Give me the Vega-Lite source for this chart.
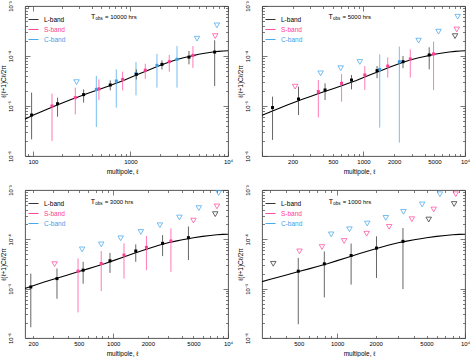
{
"$schema":"https://vega.github.io/schema/vega-lite/v6.json",
"background":"white",
"padding":{"left":0,"top":0,"right":0,"bottom":0},
"columns":2,
"spacing":34,
"bounds":"flush",
"resolve":{"scale":{"color":"independent"},"legend":{"color":"independent"}},
"config":{
 "view":{"stroke":"#444","strokeWidth":0.9},
 "axis":{"grid":false,"domain":false,"tickColor":"#444","tickWidth":0.7,"labelFont":"Liberation Sans","labelFontSize":6,"labelColor":"#000","titleFont":"Liberation Sans","titleFontSize":6.5,"titleFontWeight":"normal","titleColor":"#000","labelOverlap":false,"labelFlush":false}
},
"datasets":{
 "curve":[{"l":80,"v":5.3e-6},{"l":90,"v":5.9e-6},{"l":100,"v":6.5e-6},{"l":120,"v":7.6e-6},{"l":150,"v":9.1e-6},{"l":180,"v":1.06e-5},{"l":200,"v":1.15e-5},{"l":250,"v":1.36e-5},{"l":300,"v":1.55e-5},{"l":350,"v":1.73e-5},{"l":400,"v":1.9e-5},{"l":500,"v":2.22e-5},{"l":600,"v":2.52e-5},{"l":700,"v":2.82e-5},{"l":850,"v":3.25e-5},{"l":1000,"v":3.7e-5},{"l":1200,"v":4.3e-5},{"l":1500,"v":5.15e-5},{"l":1800,"v":5.95e-5},{"l":2100,"v":6.7e-5},{"l":2500,"v":7.6e-5},{"l":3000,"v":8.5e-5},{"l":3500,"v":9.2e-5},{"l":4000,"v":9.8e-5},{"l":4500,"v":1.03e-4},{"l":5000,"v":1.08e-4},{"l":6000,"v":1.15e-4},{"l":7000,"v":1.2e-4},{"l":8000,"v":1.24e-4},{"l":9000,"v":1.26e-4},{"l":10000,"v":1.27e-4}],
 "p1":[
  {"kind":"d","l":97,"v":6.6e-6,"lo":2.15e-6,"hi":1.85e-5,"band":"L-band"},
  {"kind":"d","l":157,"v":1.0e-5,"lo":2.0e-6,"hi":1.76e-5,"band":"S-band"},
  {"kind":"d","l":179,"v":1.11e-5,"lo":6.1e-6,"hi":1.47e-5,"band":"L-band"},
  {"kind":"d","l":272,"v":1.47e-5,"lo":6.8e-6,"hi":2.33e-5,"band":"S-band"},
  {"kind":"d","l":331,"v":1.69e-5,"lo":1.17e-5,"hi":2.15e-5,"band":"L-band"},
  {"kind":"d","l":447,"v":2.15e-5,"lo":3.8e-6,"hi":4.0e-5,"band":"C-band"},
  {"kind":"d","l":475,"v":2.2e-5,"lo":1.32e-5,"hi":3.4e-5,"band":"S-band"},
  {"kind":"d","l":621,"v":2.63e-5,"lo":2.06e-5,"hi":3.26e-5,"band":"L-band"},
  {"kind":"d","l":716,"v":3.16e-5,"lo":9.3e-6,"hi":5.4e-5,"band":"C-band"},
  {"kind":"d","l":832,"v":3.4e-5,"lo":2.06e-5,"hi":4.86e-5,"band":"S-band"},
  {"kind":"d","l":1140,"v":4.4e-5,"lo":1.63e-5,"hi":7.6e-5,"band":"C-band"},
  {"kind":"d","l":1148,"v":4.3e-5,"lo":3.4e-5,"hi":5.4e-5,"band":"L-band"},
  {"kind":"d","l":1419,"v":5.2e-5,"lo":3.5e-5,"hi":7.0e-5,"band":"S-band"},
  {"kind":"d","l":1870,"v":6.5e-5,"lo":2.33e-5,"hi":1.11e-4,"band":"C-band"},
  {"kind":"d","l":2104,"v":6.8e-5,"lo":5.4e-5,"hi":8.2e-5,"band":"L-band"},
  {"kind":"d","l":2500,"v":7.7e-5,"lo":4.86e-5,"hi":1.05e-4,"band":"S-band"},
  {"kind":"d","l":3000,"v":8.6e-5,"lo":2.33e-5,"hi":1.58e-4,"band":"C-band"},
  {"kind":"d","l":3980,"v":9.5e-5,"lo":6.8e-5,"hi":1.26e-4,"band":"L-band"},
  {"kind":"d","l":4370,"v":1.03e-4,"lo":5.8e-5,"hi":1.58e-4,"band":"S-band"},
  {"kind":"d","l":7300,"v":1.2e-4,"lo":2.5e-5,"hi":2.06e-4,"band":"L-band"},
  {"kind":"u","l":280,"v":3.0e-5,"band":"C-band"},
  {"kind":"u","l":4810,"v":2.22e-4,"band":"C-band"},
  {"kind":"u","l":7400,"v":2.5e-4,"band":"S-band"},
  {"kind":"u","l":7700,"v":4.1e-4,"band":"C-band"}
 ],
 "p2":[
  {"kind":"d","l":127,"v":9.3e-6,"lo":2.1e-6,"hi":1.54e-5,"band":"L-band"},
  {"kind":"d","l":229,"v":1.38e-5,"lo":6.6e-6,"hi":2.44e-5,"band":"L-band"},
  {"kind":"d","l":359,"v":1.94e-5,"lo":5.9e-6,"hi":3.3e-5,"band":"S-band"},
  {"kind":"d","l":418,"v":2.09e-5,"lo":1.32e-5,"hi":2.84e-5,"band":"L-band"},
  {"kind":"d","l":608,"v":2.84e-5,"lo":1.22e-5,"hi":4.36e-5,"band":"S-band"},
  {"kind":"d","l":762,"v":3.3e-5,"lo":2.15e-5,"hi":4.17e-5,"band":"L-band"},
  {"kind":"d","l":1030,"v":4.17e-5,"lo":2.09e-5,"hi":6.3e-5,"band":"S-band"},
  {"kind":"d","l":1445,"v":5.4e-5,"lo":3.7e-6,"hi":1.08e-4,"band":"C-band"},
  {"kind":"d","l":1360,"v":5.1e-5,"lo":3.6e-5,"hi":6.3e-5,"band":"L-band"},
  {"kind":"d","l":1733,"v":6.3e-5,"lo":3.7e-5,"hi":9.4e-5,"band":"S-band"},
  {"kind":"d","l":2255,"v":7.7e-5,"lo":1.85e-6,"hi":1.54e-4,"band":"C-band"},
  {"kind":"d","l":2450,"v":7.7e-5,"lo":5.7e-5,"hi":1.0e-4,"band":"L-band"},
  {"kind":"d","l":2890,"v":8.7e-5,"lo":3.7e-5,"hi":1.36e-4,"band":"S-band"},
  {"kind":"d","l":4440,"v":1.05e-4,"lo":5.4e-5,"hi":1.49e-4,"band":"L-band"},
  {"kind":"d","l":4900,"v":1.1e-4,"lo":2.09e-5,"hi":1.94e-4,"band":"S-band"},
  {"kind":"u","l":212,"v":2.44e-5,"band":"S-band"},
  {"kind":"u","l":378,"v":4.5e-5,"band":"C-band"},
  {"kind":"u","l":596,"v":5.7e-5,"band":"C-band"},
  {"kind":"u","l":920,"v":7.6e-5,"band":"C-band"},
  {"kind":"u","l":3490,"v":2.03e-4,"band":"C-band"},
  {"kind":"u","l":5480,"v":3.07e-4,"band":"C-band"},
  {"kind":"u","l":7980,"v":2.5e-4,"band":"L-band"},
  {"kind":"u","l":8290,"v":3.4e-4,"band":"S-band"},
  {"kind":"u","l":8470,"v":6.1e-4,"band":"C-band"}
 ],
 "p3":[
  {"kind":"d","l":191,"v":1.08e-5,"lo":1.65e-6,"hi":2.02e-5,"band":"L-band"},
  {"kind":"d","l":323,"v":1.6e-5,"lo":6.25e-6,"hi":2.56e-5,"band":"L-band"},
  {"kind":"d","l":493,"v":2.26e-5,"lo":3.3e-6,"hi":4.1e-5,"band":"S-band"},
  {"kind":"d","l":546,"v":2.37e-5,"lo":1.26e-5,"hi":3.5e-5,"band":"L-band"},
  {"kind":"d","l":785,"v":3.24e-5,"lo":8.96e-6,"hi":5.8e-5,"band":"S-band"},
  {"kind":"d","l":936,"v":3.67e-5,"lo":2.09e-5,"hi":5.3e-5,"band":"L-band"},
  {"kind":"d","l":1240,"v":4.79e-5,"lo":1.6e-5,"hi":8.3e-5,"band":"S-band"},
  {"kind":"d","l":1570,"v":5.8e-5,"lo":3.5e-5,"hi":7.9e-5,"band":"L-band"},
  {"kind":"d","l":1945,"v":6.87e-5,"lo":2.37e-5,"hi":1.17e-4,"band":"S-band"},
  {"kind":"d","l":2690,"v":8.3e-5,"lo":4.57e-5,"hi":1.22e-4,"band":"L-band"},
  {"kind":"d","l":3180,"v":9.25e-5,"lo":2.19e-5,"hi":1.67e-4,"band":"S-band"},
  {"kind":"d","l":4520,"v":1.08e-4,"lo":3.8e-5,"hi":1.82e-4,"band":"L-band"},
  {"kind":"u","l":308,"v":3.14e-5,"band":"S-band"},
  {"kind":"u","l":535,"v":6.25e-5,"band":"C-band"},
  {"kind":"u","l":785,"v":7.9e-5,"band":"C-band"},
  {"kind":"u","l":1160,"v":1.05e-4,"band":"C-band"},
  {"kind":"u","l":1740,"v":1.41e-4,"band":"C-band"},
  {"kind":"u","l":2550,"v":1.93e-4,"band":"C-band"},
  {"kind":"u","l":3770,"v":2.77e-4,"band":"C-band"},
  {"kind":"u","l":5000,"v":2.4e-4,"band":"S-band"},
  {"kind":"u","l":5570,"v":4.3e-4,"band":"C-band"},
  {"kind":"u","l":7740,"v":3.24e-4,"band":"L-band"},
  {"kind":"u","l":8010,"v":4.65e-4,"band":"S-band"},
  {"kind":"u","l":8280,"v":8.7e-4,"band":"C-band"}
 ],
 "p4":[
  {"kind":"d","l":496,"v":2.26e-5,"lo":1.9e-6,"hi":4.2e-5,"band":"L-band"},
  {"kind":"d","l":793,"v":3.19e-5,"lo":6.65e-6,"hi":5.7e-5,"band":"L-band"},
  {"kind":"d","l":1285,"v":4.7e-5,"lo":1.21e-5,"hi":8.2e-5,"band":"L-band"},
  {"kind":"d","l":2030,"v":6.65e-5,"lo":1.65e-5,"hi":1.15e-4,"band":"L-band"},
  {"kind":"d","l":3270,"v":9.1e-5,"lo":9.8e-6,"hi":1.7e-4,"band":"L-band"},
  {"kind":"u","l":316,"v":3.19e-5,"band":"L-band"},
  {"kind":"u","l":507,"v":5.7e-5,"band":"S-band"},
  {"kind":"u","l":760,"v":6.98e-5,"band":"S-band"},
  {"kind":"u","l":897,"v":1.26e-4,"band":"C-band"},
  {"kind":"u","l":1133,"v":9.25e-5,"band":"S-band"},
  {"kind":"u","l":1247,"v":1.6e-4,"band":"C-band"},
  {"kind":"u","l":1700,"v":1.3e-4,"band":"S-band"},
  {"kind":"u","l":1718,"v":2.09e-4,"band":"C-band"},
  {"kind":"u","l":2550,"v":1.79e-4,"band":"S-band"},
  {"kind":"u","l":2400,"v":2.72e-4,"band":"C-band"},
  {"kind":"u","l":3300,"v":3.61e-4,"band":"C-band"},
  {"kind":"u","l":3840,"v":2.56e-4,"band":"S-band"},
  {"kind":"u","l":4620,"v":5.1e-4,"band":"C-band"},
  {"kind":"u","l":5200,"v":2.52e-4,"band":"L-band"},
  {"kind":"u","l":5690,"v":4.03e-4,"band":"S-band"},
  {"kind":"u","l":6370,"v":8.2e-4,"band":"C-band"},
  {"kind":"u","l":8220,"v":5.2e-4,"band":"L-band"},
  {"kind":"u","l":8470,"v":8.2e-4,"band":"S-band"}
 ]
},
"concat":[
{
 "width":203,"height":150,
 "resolve":{"axis":{"x":"independent","y":"independent"}},
 "layer":[
  {"data":{"name":"curve"},"mark":{"type":"line","color":"#000","strokeWidth":1.1,"clip":true},
   "encoding":{
    "x":{"field":"l","type":"quantitative","scale":{"type":"log","domain":[83,10000],"nice":false},
     "axis":{"orient":"bottom","values":[100,1000,10000],"ticks":false,"labelExpr":"datum.value >= 9999 ? '10⁴' : format(datum.value,'d')","labelPadding":2,"labelBaseline":"top","labelAlign":"center","title":"multipole, ℓ","titleX":97,"titleY":15,"titleBaseline":"middle","titleAlign":"center"}},
    "y":{"field":"v","type":"quantitative","scale":{"type":"log","domain":[0.000001,0.001],"nice":false},
     "axis":{"orient":"left","values":[0.000001,0.00001,0.0001,0.001],"ticks":false,"labelExpr":"datum.value >= 0.0009 ? '10⁻³' : datum.value >= 0.00009 ? '10⁻⁴' : datum.value >= 0.000009 ? '10⁻⁵' : '10⁻⁶'","labelAngle":270,"labelAlign":"center","labelBaseline":"middle","labelPadding":14.5,"title":"ℓ(ℓ+1)Cℓ/2π","titleAngle":270,"titleX":-21.5,"titleY":75,"titleAlign":"center","titleBaseline":"middle"}}
   }},
  {"data":{"name":"p1"},"transform":[{"filter":"datum.kind === 'd'"}],"mark":{"type":"rule","strokeWidth":0.75},
   "encoding":{
    "x":{"field":"l","type":"quantitative","scale":{"type":"log","domain":[83,10000],"nice":false},
     "axis":{"orient":"bottom","values":[90,100,200,300,400,500,600,700,800,900,1000,2000,3000,4000,5000,6000,7000,8000,9000,10000],"labels":false,"title":null,"tickSize":{"condition":{"test":"abs(log(datum.value)/LN10 - round(log(datum.value)/LN10)) < 0.001","value":-5},"value":-2.5}}},
    "y":{"field":"lo","type":"quantitative","scale":{"type":"log","domain":[0.000001,0.001],"nice":false},
     "axis":{"orient":"left","values":[0.000001,0.000002,0.000003,0.000004,0.000005,0.000006,0.000007,0.000008,0.000009,0.00001,0.00002,0.00003,0.00004,0.00005,0.00006,0.00007,0.00008,0.00009,0.0001,0.0002,0.0003,0.0004,0.0005,0.0006,0.0007,0.0008,0.0009,0.001],"labels":false,"title":null,"tickSize":{"condition":{"test":"abs(log(datum.value)/LN10 - round(log(datum.value)/LN10)) < 0.001","value":-5},"value":-2.5}}},
    "y2":{"field":"hi"},
    "color":{"field":"band","type":"nominal","scale":{"domain":["L-band","S-band","C-band"],"range":["#333333","#ff4d9d","#4aa8ec"]},
     "legend":{"orient":"none","legendX":3,"legendY":8,"title":null,"symbolType":"stroke","symbolSize":100,"symbolStrokeWidth":1,"labelFont":"Liberation Sans","labelFontSize":6.5,"labelOffset":5,"rowPadding":1,"padding":0,"encode":{"labels":{"update":{"fill":{"signal":"datum.value === 'S-band' ? '#ff3d94' : datum.value === 'C-band' ? '#3fa0e8' : '#000000'"}}}}}}
   }},
  {"data":{"name":"p1"},"transform":[{"filter":"datum.kind === 'd'"}],"mark":{"type":"point","shape":"square","filled":true,"size":9,"opacity":1},
   "encoding":{
    "x":{"field":"l","type":"quantitative","scale":{"type":"log","domain":[83,10000],"nice":false},
     "axis":{"orient":"top","values":[90,100,200,300,400,500,600,700,800,900,1000,2000,3000,4000,5000,6000,7000,8000,9000,10000],"labels":false,"title":null,"tickSize":{"condition":{"test":"abs(log(datum.value)/LN10 - round(log(datum.value)/LN10)) < 0.001","value":-5},"value":-2.5}}},
    "y":{"field":"v","type":"quantitative","scale":{"type":"log","domain":[0.000001,0.001],"nice":false},
     "axis":{"orient":"right","values":[0.000001,0.000002,0.000003,0.000004,0.000005,0.000006,0.000007,0.000008,0.000009,0.00001,0.00002,0.00003,0.00004,0.00005,0.00006,0.00007,0.00008,0.00009,0.0001,0.0002,0.0003,0.0004,0.0005,0.0006,0.0007,0.0008,0.0009,0.001],"labels":false,"title":null,"tickSize":{"condition":{"test":"abs(log(datum.value)/LN10 - round(log(datum.value)/LN10)) < 0.001","value":-5},"value":-2.5}}},
    "fill":{"field":"band","type":"nominal","scale":{"domain":["L-band","S-band","C-band"],"range":["#000000","#ff3d94","#3fa0e8"]},"legend":null}
   }},
  {"data":{"name":"p1"},"transform":[{"filter":"datum.kind === 'u'"}],"mark":{"type":"point","shape":"triangle-down","filled":false,"size":30,"strokeWidth":0.75,"opacity":1,"clip":true},
   "encoding":{
    "x":{"field":"l","type":"quantitative","scale":{"type":"log","domain":[83,10000],"nice":false},"axis":null},
    "y":{"field":"v","type":"quantitative","scale":{"type":"log","domain":[0.000001,0.001],"nice":false},"axis":null},
    "stroke":{"field":"band","type":"nominal","scale":{"domain":["L-band","S-band","C-band"],"range":["#333333","#ff4d9d","#4aa8ec"]},"legend":null}
   }},
  {"data":{"values":[{"l":394,"v":0.00059,"hrs":"= 10000 hrs"}]},
   "layer":[
    {"mark":{"type":"text","text":"T","align":"left","baseline":"middle","font":"Liberation Sans","fontSize":7,"color":"#000"}},
    {"mark":{"type":"text","text":"obs","align":"left","baseline":"middle","font":"Liberation Sans","fontSize":4.5,"dx":4.5,"dy":2,"color":"#000"}},
    {"mark":{"type":"text","align":"left","baseline":"middle","font":"Liberation Sans","fontSize":6,"dx":14,"color":"#000"},"encoding":{"text":{"field":"hrs"}}}
   ],
   "encoding":{
    "x":{"field":"l","type":"quantitative","scale":{"type":"log","domain":[83,10000],"nice":false},"axis":null},
    "y":{"field":"v","type":"quantitative","scale":{"type":"log","domain":[0.000001,0.001],"nice":false},"axis":null}
   }}
 ]
},
{
 "width":203,"height":150,
 "resolve":{"axis":{"x":"independent","y":"independent"}},
 "layer":[
  {"data":{"name":"curve"},"mark":{"type":"line","color":"#000","strokeWidth":1.1,"clip":true},
   "encoding":{
    "x":{"field":"l","type":"quantitative","scale":{"type":"log","domain":[100,10000],"nice":false},
     "axis":{"orient":"bottom","values":[200,500,1000,2000,5000,10000],"ticks":false,"labelExpr":"datum.value >= 9999 ? '10⁴' : format(datum.value,'d')","labelPadding":2,"labelBaseline":"top","labelAlign":"center","title":"multipole, ℓ","titleX":97,"titleY":15,"titleBaseline":"middle","titleAlign":"center"}},
    "y":{"field":"v","type":"quantitative","scale":{"type":"log","domain":[0.000001,0.001],"nice":false},
     "axis":{"orient":"left","values":[0.000001,0.00001,0.0001,0.001],"ticks":false,"labelExpr":"datum.value >= 0.0009 ? '10⁻³' : datum.value >= 0.00009 ? '10⁻⁴' : datum.value >= 0.000009 ? '10⁻⁵' : '10⁻⁶'","labelAngle":270,"labelAlign":"center","labelBaseline":"middle","labelPadding":14.5,"title":"ℓ(ℓ+1)Cℓ/2π","titleAngle":270,"titleX":-21.5,"titleY":75,"titleAlign":"center","titleBaseline":"middle"}}
   }},
  {"data":{"name":"p2"},"transform":[{"filter":"datum.kind === 'd'"}],"mark":{"type":"rule","strokeWidth":0.75},
   "encoding":{
    "x":{"field":"l","type":"quantitative","scale":{"type":"log","domain":[100,10000],"nice":false},
     "axis":{"orient":"bottom","values":[100,200,300,400,500,600,700,800,900,1000,2000,3000,4000,5000,6000,7000,8000,9000,10000],"labels":false,"title":null,"tickSize":{"condition":{"test":"abs(log(datum.value)/LN10 - round(log(datum.value)/LN10)) < 0.001","value":-5},"value":-2.5}}},
    "y":{"field":"lo","type":"quantitative","scale":{"type":"log","domain":[0.000001,0.001],"nice":false},
     "axis":{"orient":"left","values":[0.000001,0.000002,0.000003,0.000004,0.000005,0.000006,0.000007,0.000008,0.000009,0.00001,0.00002,0.00003,0.00004,0.00005,0.00006,0.00007,0.00008,0.00009,0.0001,0.0002,0.0003,0.0004,0.0005,0.0006,0.0007,0.0008,0.0009,0.001],"labels":false,"title":null,"tickSize":{"condition":{"test":"abs(log(datum.value)/LN10 - round(log(datum.value)/LN10)) < 0.001","value":-5},"value":-2.5}}},
    "y2":{"field":"hi"},
    "color":{"field":"band","type":"nominal","scale":{"domain":["L-band","S-band","C-band"],"range":["#333333","#ff4d9d","#4aa8ec"]},
     "legend":{"orient":"none","legendX":3,"legendY":8,"title":null,"symbolType":"stroke","symbolSize":100,"symbolStrokeWidth":1,"labelFont":"Liberation Sans","labelFontSize":6.5,"labelOffset":5,"rowPadding":1,"padding":0,"encode":{"labels":{"update":{"fill":{"signal":"datum.value === 'S-band' ? '#ff3d94' : datum.value === 'C-band' ? '#3fa0e8' : '#000000'"}}}}}}
   }},
  {"data":{"name":"p2"},"transform":[{"filter":"datum.kind === 'd'"}],"mark":{"type":"point","shape":"square","filled":true,"size":9,"opacity":1},
   "encoding":{
    "x":{"field":"l","type":"quantitative","scale":{"type":"log","domain":[100,10000],"nice":false},
     "axis":{"orient":"top","values":[100,200,300,400,500,600,700,800,900,1000,2000,3000,4000,5000,6000,7000,8000,9000,10000],"labels":false,"title":null,"tickSize":{"condition":{"test":"abs(log(datum.value)/LN10 - round(log(datum.value)/LN10)) < 0.001","value":-5},"value":-2.5}}},
    "y":{"field":"v","type":"quantitative","scale":{"type":"log","domain":[0.000001,0.001],"nice":false},
     "axis":{"orient":"right","values":[0.000001,0.000002,0.000003,0.000004,0.000005,0.000006,0.000007,0.000008,0.000009,0.00001,0.00002,0.00003,0.00004,0.00005,0.00006,0.00007,0.00008,0.00009,0.0001,0.0002,0.0003,0.0004,0.0005,0.0006,0.0007,0.0008,0.0009,0.001],"labels":false,"title":null,"tickSize":{"condition":{"test":"abs(log(datum.value)/LN10 - round(log(datum.value)/LN10)) < 0.001","value":-5},"value":-2.5}}},
    "fill":{"field":"band","type":"nominal","scale":{"domain":["L-band","S-band","C-band"],"range":["#000000","#ff3d94","#3fa0e8"]},"legend":null}
   }},
  {"data":{"name":"p2"},"transform":[{"filter":"datum.kind === 'u'"}],"mark":{"type":"point","shape":"triangle-down","filled":false,"size":30,"strokeWidth":0.75,"opacity":1,"clip":true},
   "encoding":{
    "x":{"field":"l","type":"quantitative","scale":{"type":"log","domain":[100,10000],"nice":false},"axis":null},
    "y":{"field":"v","type":"quantitative","scale":{"type":"log","domain":[0.000001,0.001],"nice":false},"axis":null},
    "stroke":{"field":"band","type":"nominal","scale":{"domain":["L-band","S-band","C-band"],"range":["#333333","#ff4d9d","#4aa8ec"]},"legend":null}
   }},
  {"data":{"values":[{"l":452,"v":0.00059,"hrs":"= 5000 hrs"}]},
   "layer":[
    {"mark":{"type":"text","text":"T","align":"left","baseline":"middle","font":"Liberation Sans","fontSize":7,"color":"#000"}},
    {"mark":{"type":"text","text":"obs","align":"left","baseline":"middle","font":"Liberation Sans","fontSize":4.5,"dx":4.5,"dy":2,"color":"#000"}},
    {"mark":{"type":"text","align":"left","baseline":"middle","font":"Liberation Sans","fontSize":6,"dx":14,"color":"#000"},"encoding":{"text":{"field":"hrs"}}}
   ],
   "encoding":{
    "x":{"field":"l","type":"quantitative","scale":{"type":"log","domain":[100,10000],"nice":false},"axis":null},
    "y":{"field":"v","type":"quantitative","scale":{"type":"log","domain":[0.000001,0.001],"nice":false},"axis":null}
   }}
 ]
},
{
 "width":203,"height":148,
 "resolve":{"axis":{"x":"independent","y":"independent"}},
 "layer":[
  {"data":{"name":"curve"},"mark":{"type":"line","color":"#000","strokeWidth":1.1,"clip":true},
   "encoding":{
    "x":{"field":"l","type":"quantitative","scale":{"type":"log","domain":[170,10000],"nice":false},
     "axis":{"orient":"bottom","values":[200,500,1000,2000,5000,10000],"ticks":false,"labelExpr":"datum.value >= 9999 ? '10⁴' : format(datum.value,'d')","labelPadding":2,"labelBaseline":"top","labelAlign":"center","title":"multipole, ℓ","titleX":97,"titleY":15,"titleBaseline":"middle","titleAlign":"center"}},
    "y":{"field":"v","type":"quantitative","scale":{"type":"log","domain":[0.000001,0.001],"nice":false},
     "axis":{"orient":"left","values":[0.000001,0.00001,0.0001,0.001],"ticks":false,"labelExpr":"datum.value >= 0.0009 ? '10⁻³' : datum.value >= 0.00009 ? '10⁻⁴' : datum.value >= 0.000009 ? '10⁻⁵' : '10⁻⁶'","labelAngle":270,"labelAlign":"center","labelBaseline":"middle","labelPadding":14.5,"title":"ℓ(ℓ+1)Cℓ/2π","titleAngle":270,"titleX":-21.5,"titleY":74,"titleAlign":"center","titleBaseline":"middle"}}
   }},
  {"data":{"name":"p3"},"transform":[{"filter":"datum.kind === 'd'"}],"mark":{"type":"rule","strokeWidth":0.75},
   "encoding":{
    "x":{"field":"l","type":"quantitative","scale":{"type":"log","domain":[170,10000],"nice":false},
     "axis":{"orient":"bottom","values":[200,300,400,500,600,700,800,900,1000,2000,3000,4000,5000,6000,7000,8000,9000,10000],"labels":false,"title":null,"tickSize":{"condition":{"test":"abs(log(datum.value)/LN10 - round(log(datum.value)/LN10)) < 0.001","value":-5},"value":-2.5}}},
    "y":{"field":"lo","type":"quantitative","scale":{"type":"log","domain":[0.000001,0.001],"nice":false},
     "axis":{"orient":"left","values":[0.000001,0.000002,0.000003,0.000004,0.000005,0.000006,0.000007,0.000008,0.000009,0.00001,0.00002,0.00003,0.00004,0.00005,0.00006,0.00007,0.00008,0.00009,0.0001,0.0002,0.0003,0.0004,0.0005,0.0006,0.0007,0.0008,0.0009,0.001],"labels":false,"title":null,"tickSize":{"condition":{"test":"abs(log(datum.value)/LN10 - round(log(datum.value)/LN10)) < 0.001","value":-5},"value":-2.5}}},
    "y2":{"field":"hi"},
    "color":{"field":"band","type":"nominal","scale":{"domain":["L-band","S-band","C-band"],"range":["#333333","#ff4d9d","#4aa8ec"]},
     "legend":{"orient":"none","legendX":3,"legendY":8,"title":null,"symbolType":"stroke","symbolSize":100,"symbolStrokeWidth":1,"labelFont":"Liberation Sans","labelFontSize":6.5,"labelOffset":5,"rowPadding":1,"padding":0,"encode":{"labels":{"update":{"fill":{"signal":"datum.value === 'S-band' ? '#ff3d94' : datum.value === 'C-band' ? '#3fa0e8' : '#000000'"}}}}}}
   }},
  {"data":{"name":"p3"},"transform":[{"filter":"datum.kind === 'd'"}],"mark":{"type":"point","shape":"square","filled":true,"size":9,"opacity":1},
   "encoding":{
    "x":{"field":"l","type":"quantitative","scale":{"type":"log","domain":[170,10000],"nice":false},
     "axis":{"orient":"top","values":[200,300,400,500,600,700,800,900,1000,2000,3000,4000,5000,6000,7000,8000,9000,10000],"labels":false,"title":null,"tickSize":{"condition":{"test":"abs(log(datum.value)/LN10 - round(log(datum.value)/LN10)) < 0.001","value":-5},"value":-2.5}}},
    "y":{"field":"v","type":"quantitative","scale":{"type":"log","domain":[0.000001,0.001],"nice":false},
     "axis":{"orient":"right","values":[0.000001,0.000002,0.000003,0.000004,0.000005,0.000006,0.000007,0.000008,0.000009,0.00001,0.00002,0.00003,0.00004,0.00005,0.00006,0.00007,0.00008,0.00009,0.0001,0.0002,0.0003,0.0004,0.0005,0.0006,0.0007,0.0008,0.0009,0.001],"labels":false,"title":null,"tickSize":{"condition":{"test":"abs(log(datum.value)/LN10 - round(log(datum.value)/LN10)) < 0.001","value":-5},"value":-2.5}}},
    "fill":{"field":"band","type":"nominal","scale":{"domain":["L-band","S-band","C-band"],"range":["#000000","#ff3d94","#3fa0e8"]},"legend":null}
   }},
  {"data":{"name":"p3"},"transform":[{"filter":"datum.kind === 'u'"}],"mark":{"type":"point","shape":"triangle-down","filled":false,"size":30,"strokeWidth":0.75,"opacity":1,"clip":true},
   "encoding":{
    "x":{"field":"l","type":"quantitative","scale":{"type":"log","domain":[170,10000],"nice":false},"axis":null},
    "y":{"field":"v","type":"quantitative","scale":{"type":"log","domain":[0.000001,0.001],"nice":false},"axis":null},
    "stroke":{"field":"band","type":"nominal","scale":{"domain":["L-band","S-band","C-band"],"range":["#333333","#ff4d9d","#4aa8ec"]},"legend":null}
   }},
  {"data":{"values":[{"l":635,"v":0.00058,"hrs":"= 3000 hrs"}]},
   "layer":[
    {"mark":{"type":"text","text":"T","align":"left","baseline":"middle","font":"Liberation Sans","fontSize":7,"color":"#000"}},
    {"mark":{"type":"text","text":"obs","align":"left","baseline":"middle","font":"Liberation Sans","fontSize":4.5,"dx":4.5,"dy":2,"color":"#000"}},
    {"mark":{"type":"text","align":"left","baseline":"middle","font":"Liberation Sans","fontSize":6,"dx":14,"color":"#000"},"encoding":{"text":{"field":"hrs"}}}
   ],
   "encoding":{
    "x":{"field":"l","type":"quantitative","scale":{"type":"log","domain":[170,10000],"nice":false},"axis":null},
    "y":{"field":"v","type":"quantitative","scale":{"type":"log","domain":[0.000001,0.001],"nice":false},"axis":null}
   }}
 ]
},
{
 "width":203,"height":148,
 "resolve":{"axis":{"x":"independent","y":"independent"}},
 "layer":[
  {"data":{"name":"curve"},"mark":{"type":"line","color":"#000","strokeWidth":1.1,"clip":true},
   "encoding":{
    "x":{"field":"l","type":"quantitative","scale":{"type":"log","domain":[258,10000],"nice":false},
     "axis":{"orient":"bottom","values":[500,1000,2000,5000,10000],"ticks":false,"labelExpr":"datum.value >= 9999 ? '10⁴' : format(datum.value,'d')","labelPadding":2,"labelBaseline":"top","labelAlign":"center","title":"multipole, ℓ","titleX":97,"titleY":15,"titleBaseline":"middle","titleAlign":"center"}},
    "y":{"field":"v","type":"quantitative","scale":{"type":"log","domain":[0.000001,0.001],"nice":false},
     "axis":{"orient":"left","values":[0.000001,0.00001,0.0001,0.001],"ticks":false,"labelExpr":"datum.value >= 0.0009 ? '10⁻³' : datum.value >= 0.00009 ? '10⁻⁴' : datum.value >= 0.000009 ? '10⁻⁵' : '10⁻⁶'","labelAngle":270,"labelAlign":"center","labelBaseline":"middle","labelPadding":14.5,"title":"ℓ(ℓ+1)Cℓ/2π","titleAngle":270,"titleX":-21.5,"titleY":74,"titleAlign":"center","titleBaseline":"middle"}}
   }},
  {"data":{"name":"p4"},"transform":[{"filter":"datum.kind === 'd'"}],"mark":{"type":"rule","strokeWidth":0.75},
   "encoding":{
    "x":{"field":"l","type":"quantitative","scale":{"type":"log","domain":[258,10000],"nice":false},
     "axis":{"orient":"bottom","values":[300,400,500,600,700,800,900,1000,2000,3000,4000,5000,6000,7000,8000,9000,10000],"labels":false,"title":null,"tickSize":{"condition":{"test":"abs(log(datum.value)/LN10 - round(log(datum.value)/LN10)) < 0.001","value":-5},"value":-2.5}}},
    "y":{"field":"lo","type":"quantitative","scale":{"type":"log","domain":[0.000001,0.001],"nice":false},
     "axis":{"orient":"left","values":[0.000001,0.000002,0.000003,0.000004,0.000005,0.000006,0.000007,0.000008,0.000009,0.00001,0.00002,0.00003,0.00004,0.00005,0.00006,0.00007,0.00008,0.00009,0.0001,0.0002,0.0003,0.0004,0.0005,0.0006,0.0007,0.0008,0.0009,0.001],"labels":false,"title":null,"tickSize":{"condition":{"test":"abs(log(datum.value)/LN10 - round(log(datum.value)/LN10)) < 0.001","value":-5},"value":-2.5}}},
    "y2":{"field":"hi"},
    "color":{"field":"band","type":"nominal","scale":{"domain":["L-band","S-band","C-band"],"range":["#333333","#ff4d9d","#4aa8ec"]},
     "legend":{"orient":"none","legendX":3,"legendY":8,"title":null,"symbolType":"stroke","symbolSize":100,"symbolStrokeWidth":1,"labelFont":"Liberation Sans","labelFontSize":6.5,"labelOffset":5,"rowPadding":1,"padding":0,"values":["L-band","S-band","C-band"],"encode":{"labels":{"update":{"fill":{"signal":"datum.value === 'S-band' ? '#ff3d94' : datum.value === 'C-band' ? '#3fa0e8' : '#000000'"}}}}}}
   }},
  {"data":{"name":"p4"},"transform":[{"filter":"datum.kind === 'd'"}],"mark":{"type":"point","shape":"square","filled":true,"size":9,"opacity":1},
   "encoding":{
    "x":{"field":"l","type":"quantitative","scale":{"type":"log","domain":[258,10000],"nice":false},
     "axis":{"orient":"top","values":[300,400,500,600,700,800,900,1000,2000,3000,4000,5000,6000,7000,8000,9000,10000],"labels":false,"title":null,"tickSize":{"condition":{"test":"abs(log(datum.value)/LN10 - round(log(datum.value)/LN10)) < 0.001","value":-5},"value":-2.5}}},
    "y":{"field":"v","type":"quantitative","scale":{"type":"log","domain":[0.000001,0.001],"nice":false},
     "axis":{"orient":"right","values":[0.000001,0.000002,0.000003,0.000004,0.000005,0.000006,0.000007,0.000008,0.000009,0.00001,0.00002,0.00003,0.00004,0.00005,0.00006,0.00007,0.00008,0.00009,0.0001,0.0002,0.0003,0.0004,0.0005,0.0006,0.0007,0.0008,0.0009,0.001],"labels":false,"title":null,"tickSize":{"condition":{"test":"abs(log(datum.value)/LN10 - round(log(datum.value)/LN10)) < 0.001","value":-5},"value":-2.5}}},
    "fill":{"field":"band","type":"nominal","scale":{"domain":["L-band","S-band","C-band"],"range":["#000000","#ff3d94","#3fa0e8"]},"legend":null}
   }},
  {"data":{"name":"p4"},"transform":[{"filter":"datum.kind === 'u'"}],"mark":{"type":"point","shape":"triangle-down","filled":false,"size":30,"strokeWidth":0.75,"opacity":1,"clip":true},
   "encoding":{
    "x":{"field":"l","type":"quantitative","scale":{"type":"log","domain":[258,10000],"nice":false},"axis":null},
    "y":{"field":"v","type":"quantitative","scale":{"type":"log","domain":[0.000001,0.001],"nice":false},"axis":null},
    "stroke":{"field":"band","type":"nominal","scale":{"domain":["L-band","S-band","C-band"],"range":["#333333","#ff4d9d","#4aa8ec"]},"legend":null}
   }},
  {"data":{"values":[{"l":858,"v":0.00058,"hrs":"= 1000 hrs"}]},
   "layer":[
    {"mark":{"type":"text","text":"T","align":"left","baseline":"middle","font":"Liberation Sans","fontSize":7,"color":"#000"}},
    {"mark":{"type":"text","text":"obs","align":"left","baseline":"middle","font":"Liberation Sans","fontSize":4.5,"dx":4.5,"dy":2,"color":"#000"}},
    {"mark":{"type":"text","align":"left","baseline":"middle","font":"Liberation Sans","fontSize":6,"dx":14,"color":"#000"},"encoding":{"text":{"field":"hrs"}}}
   ],
   "encoding":{
    "x":{"field":"l","type":"quantitative","scale":{"type":"log","domain":[258,10000],"nice":false},"axis":null},
    "y":{"field":"v","type":"quantitative","scale":{"type":"log","domain":[0.000001,0.001],"nice":false},"axis":null}
   }}
 ]
}
]
}
